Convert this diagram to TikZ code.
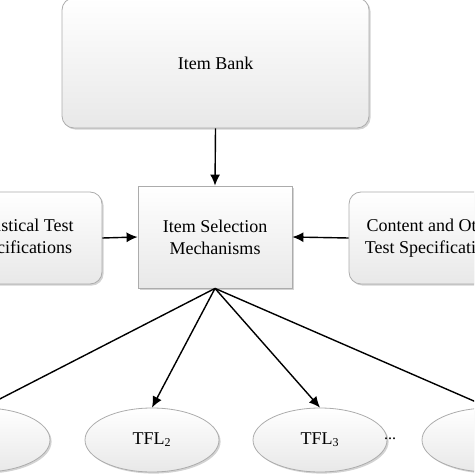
\documentclass[tikz,border=0pt]{standalone}
\usepackage{fontspec}
\setmainfont{Liberation Serif}
\usepackage{tikz}
\usetikzlibrary{arrows.meta,positioning,shapes.geometric,shadows}

\begin{document}
\begin{tikzpicture}[x=0.5pt,y=-0.5pt,
		box/.style={draw=gray!65, line width=0.4pt, top color=white, bottom color=gray!18,
			drop shadow={shadow xshift=0.8pt, shadow yshift=-0.8pt, opacity=0.35},
			align=center, font=\fontsize{9}{11}\selectfont, inner sep=2pt},
		rbox/.style={box, rounded corners=6pt},
		tfl/.style={box, ellipse, minimum width=67pt, minimum height=32pt},
		conn/.style={line width=0.7pt, -{Latex[length=5.5pt,width=5pt]}}]
		\clip (0,0) rectangle (474,474);
		\useasboundingbox (0,0) rectangle (474,474);

		% Boxes
		\node[rbox, minimum width=153.5pt, minimum height=65pt] (bank) at (215.5,63) {Item Bank};
		\node[box, minimum width=77pt, minimum height=51pt] (ism) at (215,237) {Item Selection\\Mechanisms};
		\node[rbox, minimum width=81pt, minimum height=46pt] (stat) at (21,238) {Statistical Test\\Specifications};
		\node[rbox, minimum width=84pt, minimum height=46pt] (cont) at (433,238) {Content and Other\\Test Specifications};

		% Test forms
		\node[tfl] (tfl1) at (-17,440) {};
		\node[tfl] (tfl2) at (152,440) {TFL\textsubscript{2}};
		\node[tfl] (tfl3) at (320,440) {TFL\textsubscript{3}};
		\node[tfl] (tfln) at (489,440) {};
		\node[font=\fontsize{8}{10}\selectfont] (dots) at (390,439) {...};

		% Arrows
		\draw[conn] (bank.south) -- (ism.north);
		\draw[conn] (stat.east) -- (ism.west);
		\draw[conn] (cont.west) -- (ism.east);
		\foreach \t in {tfl1,tfl2,tfl3,tfln}
			\draw[conn] (ism.south) -- (\t.north);
	\end{tikzpicture}
\end{document}
